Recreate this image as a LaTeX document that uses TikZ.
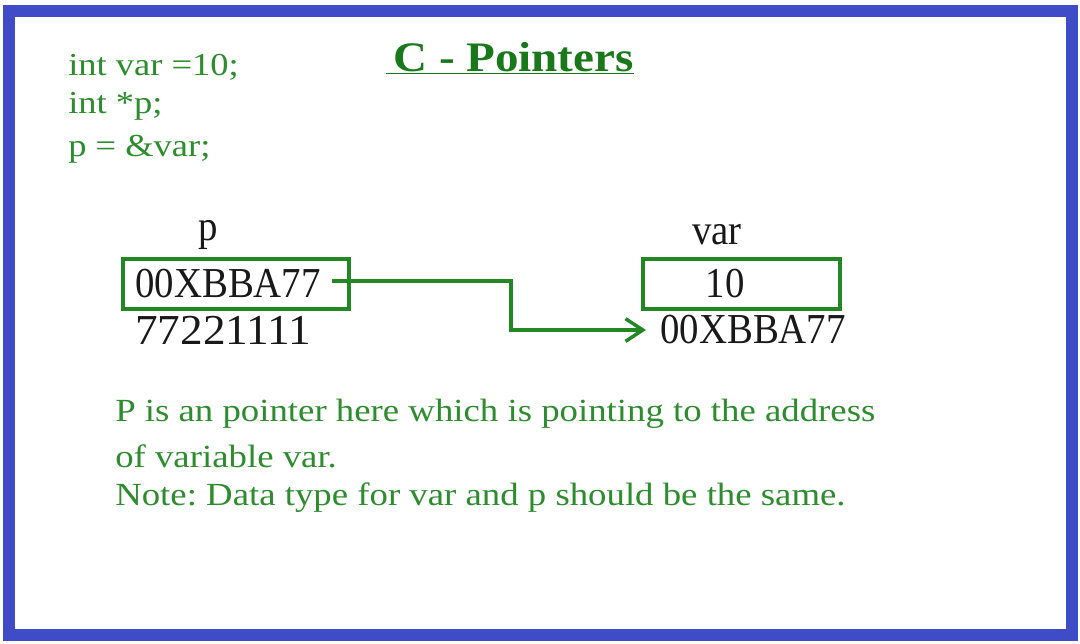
\documentclass[tikz,border=0pt]{standalone}
\usepackage{fontspec}
\setmainfont{Liberation Serif}
\newfontfamily\codefont[FakeStretch=1.14]{Liberation Serif}
\newfontfamily\titlefont[FakeStretch=1.12]{Liberation Serif}
\newfontfamily\valfont[FakeStretch=0.91]{Liberation Serif}
\newfontfamily\digitfont[FakeStretch=1.06]{Liberation Serif}
\usetikzlibrary{arrows.meta,calc}
\frenchspacing
\definecolor{frameblue}{RGB}{64,75,200}
\definecolor{codegreen}{RGB}{45,140,45}
\definecolor{titlegreen}{RGB}{25,120,25}
\definecolor{boxgreen}{RGB}{35,135,35}
\definecolor{inkblack}{RGB}{25,25,25}
\tikzset{
  codetext/.style={anchor=west, inner sep=0pt, text=codegreen, font=\codefont\fontsize{24}{28}\selectfont},
  notetext/.style={anchor=west, inner sep=0pt, text=codegreen, font=\codefont\fontsize{24.2}{28}\selectfont},
  valtext/.style={inner sep=0pt, text=inkblack, font=\valfont\fontsize{32}{36}\selectfont},
  digittext/.style={inner sep=0pt, text=inkblack, font=\digitfont\fontsize{32}{36}\selectfont},
  membox/.style={draw=boxgreen, line width=2.6pt},
  ptrline/.style={draw=boxgreen, line width=2.6pt, -{Straight Barb[length=13pt,width=17pt,line width=2.6pt]}},
}
\begin{document}
\begin{tikzpicture}[x=0.75pt,y=-0.75pt]
\useasboundingbox (0,0) rectangle (1080,643);
\fill[white] (0,0) rectangle (1080,643);
% frame
\draw[frameblue, line width=9pt] (9,11) rectangle (1072,635);
% title
\node[inner sep=0pt, text=titlegreen, font=\titlefont\bfseries\fontsize{31.5}{36}\selectfont] (title) at (510,58) {\underline{\,C - Pointers}};
% code
\node[codetext] (c1) at (68,67) {int var =10;};
\node[codetext] (c2) at (68,106) {int *p;};
\node[codetext] (c3) at (68,149) {p = \&var;};
% p
\node[valtext] (plabel) at (208,235) {p};
\node[membox, minimum width=226*0.75pt, minimum height=50*0.75pt, inner sep=0pt] (pbox) at (236,284) {};
\node[valtext, anchor=west] (pval) at (135,284) {00XBBA77};
\node[digittext, anchor=west] (paddr) at (135,330) {77221111};
% var
\node[valtext] (vlabel) at (717,235) {var};
\node[membox, minimum width=197*0.75pt, minimum height=50*0.75pt, inner sep=0pt] (vbox) at (741.5,284) {};
\node[valtext] (vval) at (725,284) {10};
\node[valtext, anchor=west] (vaddr) at (660,330) {00XBBA77};
% arrow
\coordinate (astart) at (332,281);
\draw[ptrline] (astart) -- (511,281) -- (511,330) -- ($(vaddr.west)+(-14,0)$);
% note
\node[notetext] (n1) at (115,414) {P is an pointer here which is pointing to the address};
\node[notetext] (n2) at (115,456) {of variable var.};
\node[notetext] (n3) at (115,498) {Note: Data type for var and p should be the same.};
\end{tikzpicture}
\end{document}
